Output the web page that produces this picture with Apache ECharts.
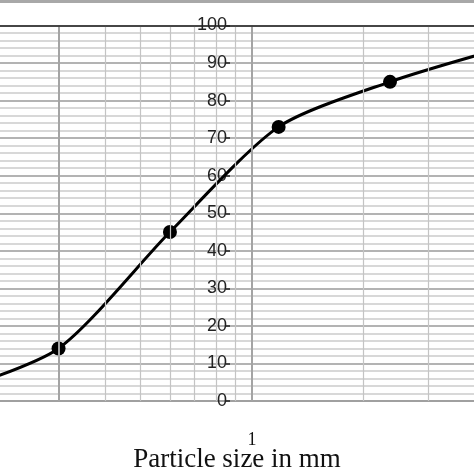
<!DOCTYPE html>
<html><head><meta charset="utf-8">
<script src="https://cdn.jsdelivr.net/npm/echarts@6/dist/echarts.min.js"></script>
<style>html,body{margin:0;padding:0;background:#fff}#c{width:474px;height:474px}</style>
</head><body><div id="c"></div>
<script>
// Data (sieve sizes in mm, percent passing)
const sieveSizes = [0.15, 0.3, 0.6, 1.18, 2.36, 4.75];
const percentPassing = [2, 14, 45, 73, 85, 94];
// Axis settings
const xMin = 0.2084, xMax = 3.98;
const xLabelValues = [1];
const yMin = 0, yMax = 100, yStep = 10;
const xGridLight = [0.4, 0.5, 0.6, 0.7, 0.8, 0.9, 2, 3];
const xGridDark = [0.3, 1];
const xTitle = 'Particle size in mm';

const chart = echarts.init(document.getElementById('c'), null, {renderer: 'canvas'});
const pts = sieveSizes.map((s, i) => [s, percentPassing[i]]);

chart.setOption({
  animation: false,
  backgroundColor: '#fff',
  graphic: [{type: 'rect', shape: {x: 0, y: 0, width: 474, height: 3}, style: {fill: '#a8a8a8'}}],
  grid: {left: 0, right: 0, top: 25.5, bottom: 73, containLabel: false, outerBoundsMode: 'none'},
  xAxis: {
    type: 'log', logBase: 10, min: xMin, max: xMax,
    name: xTitle, nameLocation: 'middle', nameGap: 45, nameMoveOverlap: false,
    nameTextStyle: {fontFamily: 'Liberation Serif', fontSize: 27, color: '#111'},
    axisLine: {show: true, lineStyle: {color: '#9a9a9a', width: 1.5}},
    axisTick: {show: false},
    splitLine: {show: false},
    axisLabel: {
      margin: 30, fontFamily: 'Liberation Serif', fontSize: 18, color: '#111',
      showMinLabel: false, showMaxLabel: false,
      formatter: v => xLabelValues.some(t => Math.abs(v - t) < 1e-6) ? String(xLabelValues.find(t => Math.abs(v - t) < 1e-6)) : ''
    }
  },
  yAxis: {
    type: 'value', min: yMin, max: yMax, interval: yStep,
    position: 'left', offset: -230,
    axisLine: {show: false},
    axisTick: {show: true, length: 4, lineStyle: {color: '#222', width: 1.5}},
    axisLabel: {margin: 3, fontFamily: 'Liberation Sans', fontSize: 18, color: '#222'},
    splitLine: {show: true, lineStyle: {color: '#9a9a9a', width: 1.5}},
    minorTick: {show: false, splitNumber: 5},
    minorSplitLine: {show: true, lineStyle: {color: '#cccccc', width: 1.5}}
  },
  series: [
    {
      name: 'grid', type: 'line', data: [], z: 1, silent: true,
      markLine: {
        silent: true, symbol: 'none', animation: false, label: {show: false},
        data: [
          ...xGridLight.map(v => ({xAxis: v, lineStyle: {color: '#c4c4c4', width: 1.2, type: 'solid'}})),
          ...xGridDark.map(v => ({xAxis: v, lineStyle: {color: '#a4a4a4', width: 2, type: 'solid'}})),
          {yAxis: yMax, lineStyle: {color: '#222', width: 1.5, type: 'solid'}}
        ]
      }
    },
    {
      name: 'Percent passing', type: 'line', data: pts, z: 3,
      smooth: 0.25, clip: true,
      symbol: 'circle', symbolSize: 14,
      itemStyle: {color: '#000'},
      lineStyle: {color: '#000', width: 3}
    }
  ]
});
</script>
</body></html>
